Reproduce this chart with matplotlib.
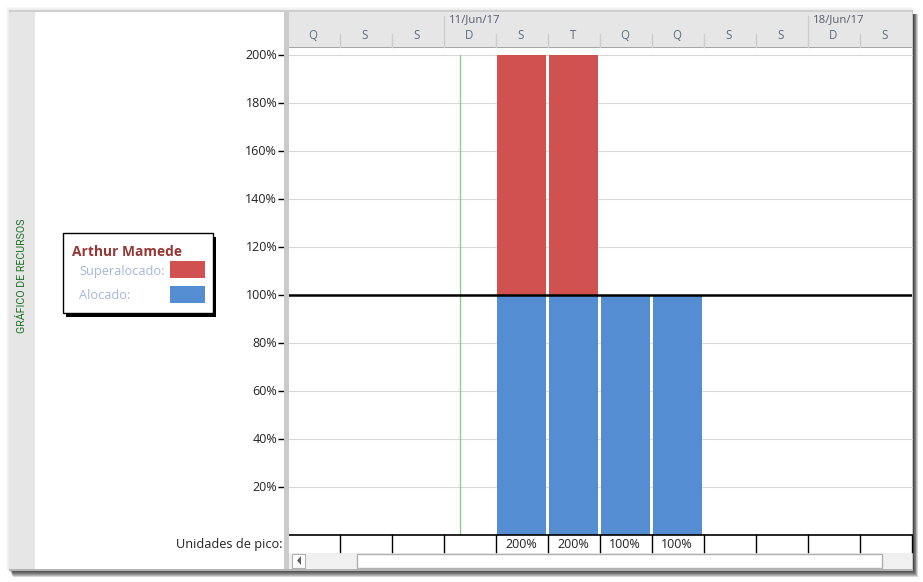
import matplotlib
matplotlib.use("Agg")
import matplotlib.pyplot as plt
from matplotlib.patches import Rectangle
from matplotlib.transforms import ScaledTranslation

plt.rcParams["font.family"] = ["Open Sans", "DejaVu Sans"]

# dados
dias = ["Q", "S", "S", "D", "S", "T", "Q", "Q", "S", "S", "D", "S"]
alocado = [0, 0, 0, 0, 100, 100, 100, 100, 0, 0, 0, 0]
superalocado = [0, 0, 0, 0, 100, 100, 0, 0, 0, 0, 0, 0]
unidades_pico = ["", "", "", "", "200%", "200%", "100%", "100%", "", "", "", ""]
yticks = [20, 40, 60, 80, 100, 120, 140, 160, 180, 200]
datas = {3: "11/Jun/17", 10: "18/Jun/17"}
hoje = 3.31

W, H = 923, 582
fig = plt.figure(figsize=(W / 100, H / 100), dpi=100, facecolor="white")

# camada de fundo em pixels (janela, faixa lateral, barras de rolagem)
bg = fig.add_axes([0, 0, 1, 1], zorder=0)
bg.set_xlim(0, W)
bg.set_ylim(H, 0)
bg.axis("off")


def caixa(x0, y0, x1, y1, alvo=None, **kw):
    (alvo or bg).add_patch(Rectangle((x0, y0), x1 - x0, y1 - y0, **kw))


# sombra da janela
for d in range(1, 4):
    caixa(9 - d, 10 - d, 913, 570, fc="black", alpha=0.025, lw=0)
for d in range(1, 8):
    caixa(9 + d * 0.5, 14, 913 + d * 0.65, 570 + d, fc="black", alpha=0.16, lw=0)
caixa(9, 10, 913, 570, fc="white", lw=0)
caixa(9, 10, 913, 12, fc="#cfcfcf", lw=0)
caixa(9, 569, 913, 571, fc="#b4b4b4", lw=0)
caixa(912, 10, 913, 570, fc="#c4c4c4", lw=0)

# faixa lateral
caixa(9, 12, 35, 569, fc="#e6e6e6", lw=0)
bg.text(22.5, 276, "GRÁFICO DE RECURSOS", rotation=90, ha="center", va="center",
        fontsize=7.7, color="#1f6f24", family=["Roboto", "DejaVu Sans"])

# cabeçalho
caixa(288, 12, 912, 47, fc="#e6e6e6", lw=0)
caixa(288, 47, 912, 48, fc="#a6a6a6", lw=0)

# barra de rolagem
caixa(288, 553, 912, 569, fc="#f0f0f0", lw=0)
caixa(291.5, 553.5, 305, 567.5, fc="white", ec="#b0b0b0", lw=0.8)
bg.fill([301, 301, 297], [556, 565, 560.5], color="#606060", lw=0)
caixa(356.5, 553.5, 881.5, 567.5, fc="white", ec="#b0b0b0", lw=1)

# gráfico principal
ax = fig.add_axes([288 / W, 1 - 535 / H, 624 / W, 480 / H], zorder=2)
ax.patch.set_alpha(0)
ax.set_xlim(0, 12)
ax.set_ylim(0, 200)
x = [i + 0.49 for i in range(len(dias))]
ax.bar(x, alocado, width=0.94, color="#548dd2", zorder=2)
ax.bar(x, superalocado, width=0.94, bottom=alocado, color="#d15050", zorder=2)

for v in yticks:
    if v != 100:
        ax.axhline(v, color="#d8d8d8", lw=0.8, zorder=1, clip_on=False)
ax.axhline(100, color="black", lw=1.8, zorder=3)
ax.axvline(hoje, color="#8ccf8c", lw=1, zorder=1)

ax.set_yticks(yticks)
ax.set_yticklabels([f"{v}%" for v in yticks], fontsize=9, color="#222222")
ax.tick_params(axis="y", length=7, width=1, color="black", pad=0.8)
sobe = ScaledTranslation(0, 1 / 100, fig.dpi_scale_trans)
for lbl in ax.get_yticklabels():
    lbl.set_transform(lbl.get_transform() + sobe)
ax.set_xticks([])
for s in ["top", "right", "left"]:
    ax.spines[s].set_visible(False)
ax.spines["bottom"].set_linewidth(1.2)

# textos do cabeçalho e linha de pico, alinhados às colunas
trans = ax.get_xaxis_transform()


def py(p):
    return (535 - p) / 480


for i, d in enumerate(dias):
    ax.text(i + 0.48, py(35.5), d, transform=trans, ha="center", va="center",
            fontsize=8.3, color="#596d80", clip_on=False)
    ax.text(i + 0.48, py(545), unidades_pico[i], transform=trans, ha="center", va="center",
            fontsize=9, color="#222222", clip_on=False)
    if i > 0:
        topo = 16 if i in datas else 34
        ax.plot([i, i], [py(topo), py(47)], transform=trans, color="#cdcdcd", lw=1, clip_on=False)
for i in range(1, len(dias) + 1):
    ax.plot([i, i], [py(535), py(552)], transform=trans, color="black", lw=1, clip_on=False)
for i, d in datas.items():
    ax.text(i + 0.09, py(20), d, transform=trans, ha="left", va="center",
            fontsize=8.2, color="#5a5a70", clip_on=False)

# divisor por cima dos ticks
topo = fig.add_axes([0, 0, 1, 1], zorder=3)
topo.set_xlim(0, W)
topo.set_ylim(H, 0)
topo.axis("off")
caixa(284, 12, 288.5, 569, alvo=topo, fc="#cbcbcb", lw=0)

topo.text(283, 544.5, "Unidades de pico:", ha="right", va="center", fontsize=9.2, color="#222222")

# legenda
caixa(66, 237, 216, 317, fc="black", lw=0, zorder=4)
caixa(63, 233, 213, 313, fc="white", ec="black", lw=1, zorder=5)
bg.text(72, 251.5, "Arthur Mamede", fontsize=9.9, fontweight="bold", color="#953735",
        ha="left", va="center", zorder=6)
bg.text(79, 271, "Superalocado:", fontsize=9.2, color="#a3b8dc", ha="left", va="center", zorder=6)
bg.text(79, 295.5, "Alocado:", fontsize=9.2, color="#a3b8dc", ha="left", va="center", zorder=6)
caixa(170, 261, 205, 278, fc="#d15050", lw=0, zorder=6)
caixa(170, 286, 205, 303, fc="#548dd2", lw=0, zorder=6)

fig.savefig("out.png", dpi=100)
